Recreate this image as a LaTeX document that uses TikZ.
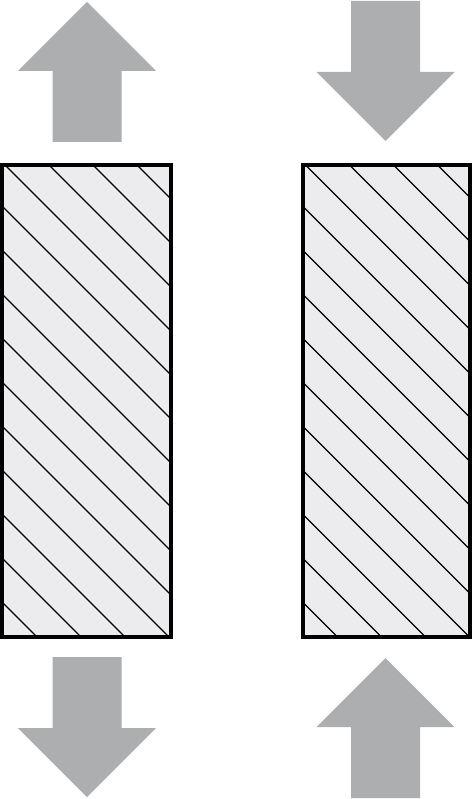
\documentclass[tikz,border=0pt]{standalone}
\usepackage{tikz}
\definecolor{arrowgray}{RGB}{173,174,176}
\definecolor{blockgray}{RGB}{236,236,238}
\tikzset{
    block/.style={draw=black, line width=4pt},
    hatch/.style={draw=black, line width=1.1pt},
    bigarrow/.style={fill=arrowgray, draw=none},
}

\begin{document}
\begin{tikzpicture}[x=1pt, y=-1pt]
        \useasboundingbox (0, 0) rectangle (474, 799);
        %draw both blocks with hatching
        \foreach \l/\r in {2/170.5, 302.5/470} {
            \begin{scope}
                \clip (\l, 165.5) rectangle (\r, 636.5);
                \fill[blockgray] (\l, 165.5) rectangle (\r, 636.5);
                \foreach \u in {30, 74, ..., 602}
                    \draw[hatch] (\l - 20, \u - 20) -- (\l + 500, \u + 500);
            \end{scope}
            \draw[block] (\l, 165.5) rectangle (\r, 636.5);
        }
        %draw the four arrows (tip, then direction)
        \foreach \cx/\tip/\s in {87/2/1, 385.5/141/-1, 87/797/-1, 385.5/658/1} {
            \fill[bigarrow] (\cx, \tip) -- (\cx + 69, \tip + 69*\s) -- (\cx + 34.5, \tip + 69*\s)
                -- (\cx + 34.5, \tip + 140*\s) -- (\cx - 34.5, \tip + 140*\s)
                -- (\cx - 34.5, \tip + 69*\s) -- (\cx - 69, \tip + 69*\s) -- cycle;
        }
    \end{tikzpicture}
\end{document}
